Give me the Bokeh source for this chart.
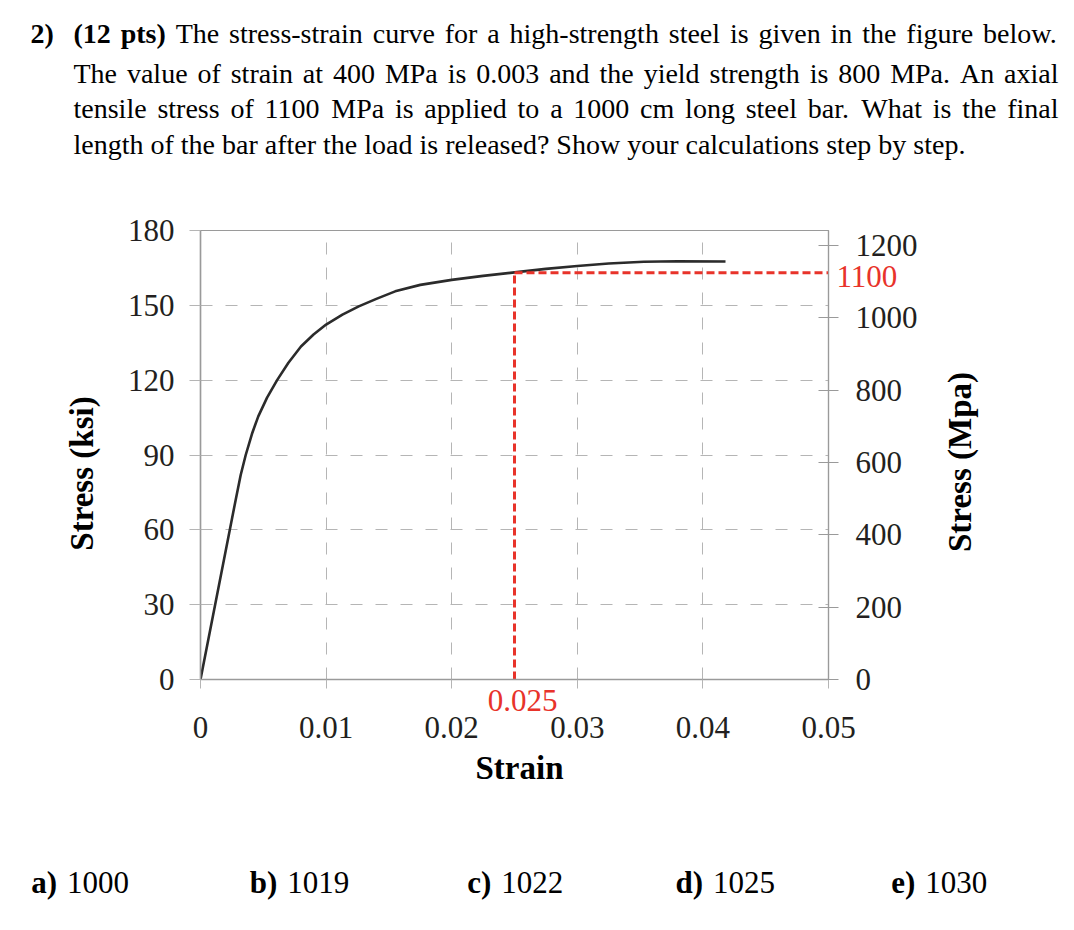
from math import pi

from bokeh.embed import file_html
from bokeh.layouts import column
from bokeh.models import (ColumnDataSource, FixedTicker, GridBox, LabelSet, LinearAxis,
                          Plot, Range1d)
from bokeh.plotting import figure
from bokeh.resources import INLINE

# stress-strain curve
strain = [0, 0.0028, 0.0032, 0.0036, 0.0041, 0.0046, 0.0053, 0.0061, 0.0070, 0.0080, 0.0090,
          0.010, 0.0113, 0.0126, 0.014, 0.0155, 0.0175, 0.020, 0.0225, 0.025, 0.0275,
          0.030, 0.0325, 0.0353, 0.038, 0.0418]
stress_ksi = [0, 72, 82, 90, 98.5, 105.5, 113, 120, 127, 133.5, 138.3,
              142.3, 146.3, 149.6, 152.6, 155.6, 158.2, 160.2, 161.8, 163.2, 164.6,
              165.8, 166.8, 167.5, 167.7, 167.6]

ksi_ticks = [0, 30, 60, 90, 120, 150, 180]
mpa_ticks = [0, 200, 400, 600, 800, 1000, 1200]
strain_ticks = [0, 0.01, 0.02, 0.03, 0.04, 0.05]
strain_labels = ["0", "0.01", "0.02", "0.03", "0.04", "0.05"]
KSI_TO_MPA = 6.894757

mark_strain = 0.025
mark_stress_ksi = 163.1
mark_strain_text = "0.025"
mark_stress_text = "1100"

question_number = "2)"
question_points = "(12 pts)"
question_lines = [
    "The stress-strain curve for a high-strength steel is given in the figure below.",
    "The value of strain at 400 MPa is 0.003 and the yield strength is 800 MPa. An axial",
    "tensile stress of 1100 MPa is applied to a 1000 cm long steel bar. What is the final",
    "length of the bar after the load is released? Show your calculations step by step.",
]
answer_keys = ["a)", "b)", "c)", "d)", "e)"]
answer_values = ["1000", "1019", "1022", "1025", "1030"]

FONT = "Liberation Serif"
INK = "#231f20"
RED = "#e8332a"
GRID = "#b5b5b5"
AXIS = "#9a9a9a"

W, H = 1066, 922
FL, FR, FT, FB = 200, 828, 230, 679   # frame edges on the page

# Times widths (1/1000 em), used to set the justified question lines
REG = dict(zip(" -.?0123456789", [250, 333, 250, 444] + [500] * 10))
REG.update({"A": 722, "M": 889, "P": 556, "S": 556, "T": 611, "W": 944})
REG.update(dict(zip("abcdefghijklmnopqrstuvwxyz",
                    [444, 500, 444, 500, 444, 333, 500, 500, 278, 278, 500, 278, 778,
                     500, 500, 500, 500, 333, 389, 278, 500, 500, 722, 500, 500, 444])))
BOLD = dict(zip(" ()0123456789", [250, 333, 333] + [500] * 10))
BOLD.update(dict(zip("abcdepst", [500, 556, 444, 556, 444, 556, 389, 333])))


def text_width(s, table, size):
    return sum(table[c] for c in s) * size / 1000.0


# ---- the chart ----
p = figure(width=W, height=H, output_backend="svg", toolbar_location=None,
           x_range=Range1d(0, 0.05), y_range=Range1d(0, 180),
           min_border_left=FL, min_border_right=W - FR, min_border_top=FT,
           min_border_bottom=H - FB,
           background_fill_color="white", border_fill_color="white")
p.extra_y_ranges = {"mpa": Range1d(0, 180 * KSI_TO_MPA)}
p.outline_line_color = AXIS
p.outline_line_width = 1.2

p.xaxis.ticker = FixedTicker(ticks=strain_ticks)
p.xaxis.major_label_overrides = dict(zip(strain_ticks, strain_labels))
p.yaxis.ticker = FixedTicker(ticks=ksi_ticks)
for ax in (p.xaxis, p.yaxis):
    ax.axis_line_color = AXIS
    ax.axis_line_width = 1.5
    ax.major_tick_line_color = GRID
    ax.major_tick_in = 0
    ax.minor_tick_line_color = None
    ax.major_label_text_font = FONT
    ax.major_label_text_font_size = "31px"
    ax.major_label_text_color = INK
p.xaxis.major_tick_out = 9
p.xaxis.major_label_standoff = 28
p.yaxis.major_tick_out = 11
p.yaxis.major_label_standoff = 15

mpa_axis = LinearAxis(y_range_name="mpa", ticker=FixedTicker(ticks=mpa_ticks))
mpa_axis.axis_line_color = AXIS
mpa_axis.axis_line_width = 1.2
mpa_axis.major_tick_line_color = AXIS
mpa_axis.major_tick_in = 10
mpa_axis.major_tick_out = 10
mpa_axis.minor_tick_line_color = None
mpa_axis.major_label_standoff = 17
mpa_axis.major_label_text_font = FONT
mpa_axis.major_label_text_font_size = "31px"
mpa_axis.major_label_text_color = INK
p.add_layout(mpa_axis, "right")

p.xgrid.ticker = FixedTicker(ticks=strain_ticks)
p.ygrid.ticker = FixedTicker(ticks=ksi_ticks)
for g in (p.xgrid, p.ygrid):
    g.grid_line_color = GRID
    g.grid_line_dash = "12 13"
    g.grid_line_width = 1

p.line(strain, stress_ksi, line_color="#2b2b2b", line_width=2.6)
p.line([mark_strain, mark_strain], [0, mark_stress_ksi], line_color=RED, line_width=3,
       line_dash="8 4")
p.line([mark_strain, p.x_range.end], [mark_stress_ksi, mark_stress_ksi], line_color=RED,
       line_width=3, line_dash="8 4")

# ---- transparent layer on top for the texts outside the frame ----
# its ranges continue the chart's scales over the whole canvas
dx = (p.x_range.end - p.x_range.start) / (FR - FL)
dy = (p.y_range.end - p.y_range.start) / (FB - FT)
t = figure(width=W, height=H, output_backend="svg", toolbar_location=None,
           x_range=Range1d(p.x_range.start - FL * dx, p.x_range.end + (W - FR) * dx),
           y_range=Range1d(p.y_range.start - (H - FB) * dy, p.y_range.end + FT * dy),
           x_axis_location=None, y_axis_location=None, min_border=0,
           background_fill_color=None, border_fill_color=None, outline_line_color=None)
t.grid.visible = False


def texts(data, size, style="normal", color="black", align="left", units="screen", **kw):
    t.add_layout(LabelSet(x="x", y="y", text="text", source=ColumnDataSource(data),
                          x_units=units, y_units=units, text_font=FONT,
                          text_font_size="%dpx" % size, text_font_style=style,
                          text_color=color, text_align=align, text_baseline="alphabetic",
                          **kw))


# red marks at the chosen point
texts(dict(x=[mark_strain], y=[0], text=[mark_strain_text]), 31, color=RED,
      align="center", units="data", x_offset=8, y_offset=-31)
texts(dict(x=[p.x_range.end], y=[mark_stress_ksi], text=[mark_stress_text]), 31, color=RED,
      units="data", x_offset=8, y_offset=-14)

# axis titles
texts(dict(x=[92.7, 970], y=[H - 473, H - 461.5], text=["Stress (ksi)", "Stress (Mpa)"]),
      33, style="bold", align="center", angle=pi / 2)
texts(dict(x=[519], y=[H - 778], text=["Strain"]), 33, style="bold", align="center")

# question text, justified word by word
Q_SIZE = 28
baselines = [42.5, 82, 117.5, 153]
q_reg = dict(x=[], y=[], text=[])
q_bold = dict(x=[], y=[], text=[])


def put(store, X, Y, s):
    store["x"].append(X)
    store["y"].append(H - Y)
    store["text"].append(s)


put(q_bold, 30, baselines[0], question_number)
for i, line in enumerate(question_lines):
    words = [(w, True) for w in question_points.split()] if i == 0 else []
    words += [(w, False) for w in line.split()]
    widths = [text_width(w, BOLD if b else REG, Q_SIZE) for w, b in words]
    if i < len(question_lines) - 1:
        gap = (1058 - 73 - sum(widths)) / (len(words) - 1)
    else:
        gap = REG[" "] * Q_SIZE / 1000.0
    X = 73
    for (w, b), wd in zip(words, widths):
        put(q_bold if b else q_reg, X, baselines[i], w)
        X += wd + gap

texts(q_reg, Q_SIZE)
texts(q_bold, Q_SIZE, style="bold")

# answer choices
A_SIZE = 31
answer_x = [30.7, 249.3, 466.7, 675, 890.7]
a_keys = dict(x=[], y=[], text=[])
a_vals = dict(x=[], y=[], text=[])
for key, val, X in zip(answer_keys, answer_values, answer_x):
    put(a_keys, X, 892, key)
    put(a_vals, X + text_width(key, BOLD, A_SIZE) + 10, 892, val)
texts(a_keys, A_SIZE, style="bold")
texts(a_vals, A_SIZE)

# stack the text layer over the chart, each keeping its own frame
if "frame_align" in Plot.properties():
    p.frame_align = False
    t.frame_align = False
    page = GridBox(children=[(p, 0, 0), (t, 0, 0)])
else:
    t.margin = (-H, 0, 0, 0)
    page = column(p, t)
open("out.html", "w").write(file_html(page, INLINE))
